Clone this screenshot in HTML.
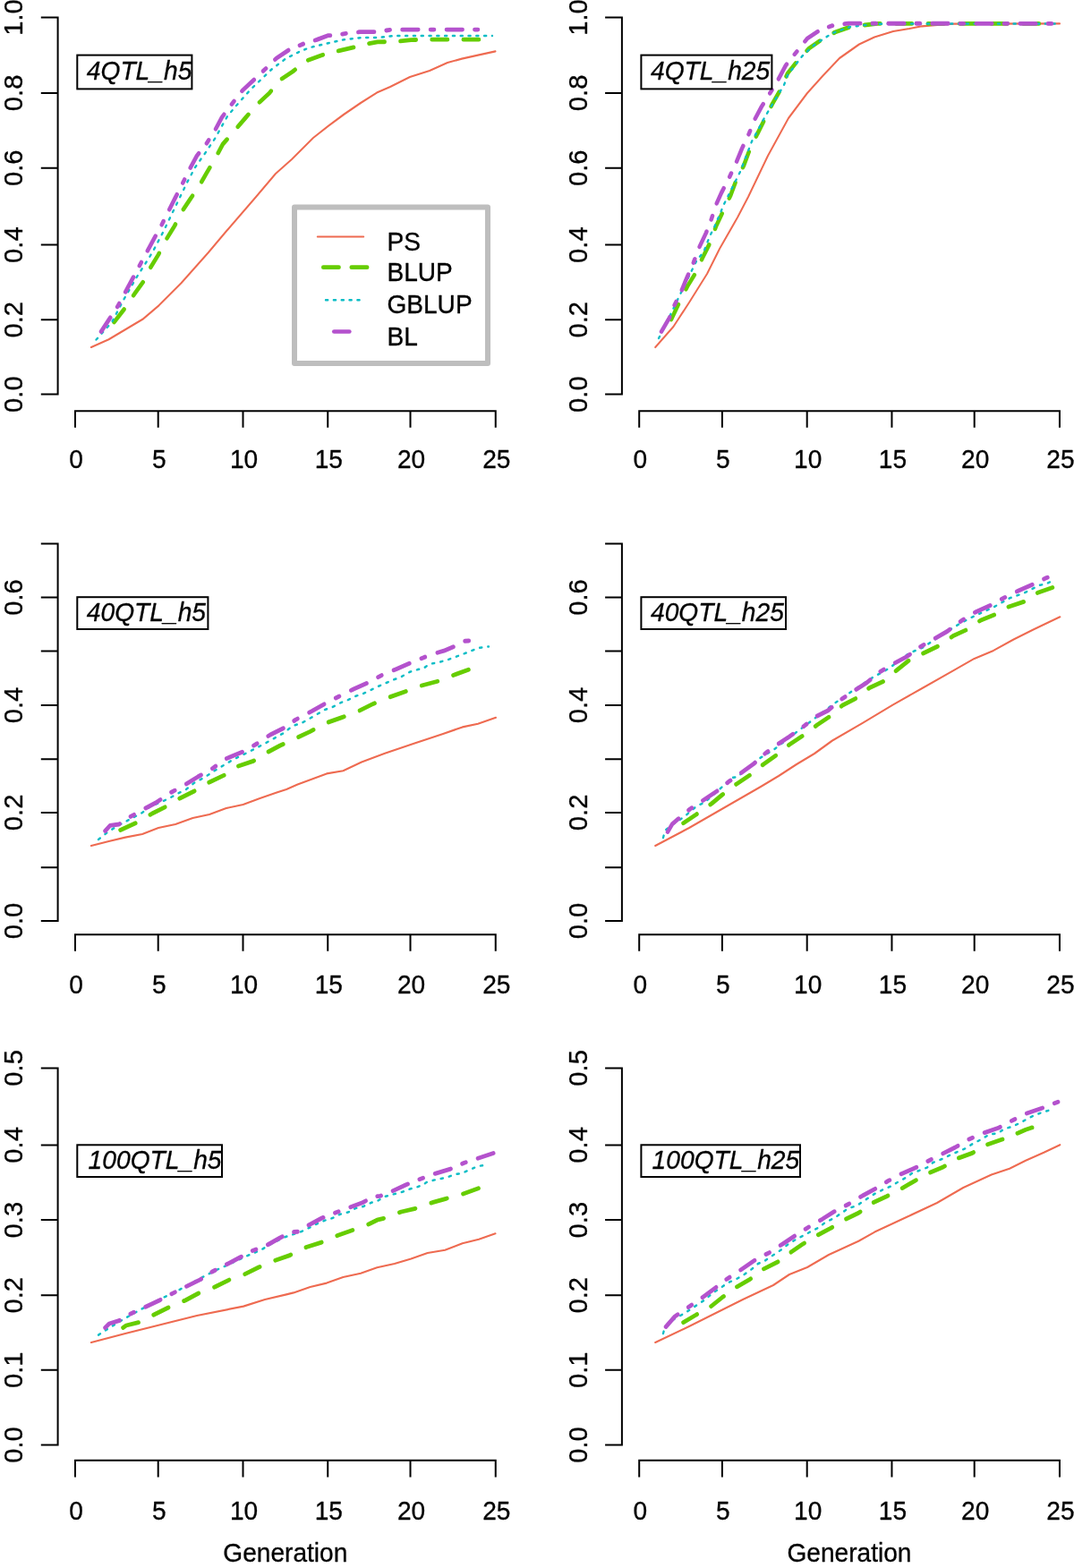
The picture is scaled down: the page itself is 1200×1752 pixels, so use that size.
<!DOCTYPE html>
<html lang="en"><head><meta charset="utf-8"><title>Genetic gain by generation</title>
<style>
html,body{margin:0;padding:0;background:#fff;}
body{width:1200px;height:1752px;overflow:hidden;}
svg{display:block;}
text{font-family:"Liberation Sans",sans-serif;fill:#000;stroke:#000;stroke-width:0.3;stroke-linejoin:round;}
.ax{stroke:#000;stroke-width:2;fill:none;stroke-linecap:butt;stroke-linejoin:miter;}
.t{font-size:28.1px;}
.b{font-size:28.2px;font-style:italic;}
.bx{fill:#fff;stroke:#000;stroke-width:2;}
.c{fill:none;stroke-linecap:round;stroke-linejoin:round;}
.ps{stroke:#EE6A50;stroke-width:2;}
.blup{stroke:#66CD00;stroke-width:4.5;}
.gblup{stroke:#0CBDC6;stroke-width:2.3;}
.bl{stroke:#B452CD;stroke-width:4.5;}
</style></head><body>
<svg width="1200" height="1752" viewBox="0 0 1200 1752">
<rect x="0" y="0" width="1200" height="1752" fill="#fff"/>
<g>
<path class="ax" d="M64.6 18.5V441.6M64.6 440.6H45.8M64.6 357.3H45.8M64.6 273.6H45.8M64.6 187.7H45.8M64.6 103.9H45.8M64.6 19.5H45.8"/>
<text class="t" text-anchor="middle" transform="translate(25.4 440.6) rotate(-90) scale(1.04 1.075)">0.0</text>
<text class="t" text-anchor="middle" transform="translate(25.4 357.3) rotate(-90) scale(1.04 1.075)">0.2</text>
<text class="t" text-anchor="middle" transform="translate(25.4 273.6) rotate(-90) scale(1.04 1.075)">0.4</text>
<text class="t" text-anchor="middle" transform="translate(25.4 187.7) rotate(-90) scale(1.04 1.075)">0.6</text>
<text class="t" text-anchor="middle" transform="translate(25.4 103.9) rotate(-90) scale(1.04 1.075)">0.8</text>
<text class="t" text-anchor="middle" transform="translate(25.4 19.5) rotate(-90) scale(1.04 1.075)">1.0</text>
<path class="ax" d="M83 459.2H554.75M84 459.2V477.8M176.7 459.2V477.8M271.5 459.2V477.8M366.25 459.2V477.8M458.5 459.2V477.8M553.75 459.2V477.8"/>
<text class="t" text-anchor="middle" transform="translate(85 522.6) scale(1 1.075)">0</text>
<text class="t" text-anchor="middle" transform="translate(177.7 522.6) scale(1 1.075)">5</text>
<text class="t" text-anchor="middle" transform="translate(272.5 522.6) scale(1 1.075)">10</text>
<text class="t" text-anchor="middle" transform="translate(367.25 522.6) scale(1 1.075)">15</text>
<text class="t" text-anchor="middle" transform="translate(459.5 522.6) scale(1 1.075)">20</text>
<text class="t" text-anchor="middle" transform="translate(554.75 522.6) scale(1 1.075)">25</text>
</g>
<g>
<path class="ax" d="M694.9 18.5V441.6M694.9 440.6H676.1M694.9 357.3H676.1M694.9 273.6H676.1M694.9 187.7H676.1M694.9 103.9H676.1M694.9 19.5H676.1"/>
<text class="t" text-anchor="middle" transform="translate(655.7 440.6) rotate(-90) scale(1.04 1.075)">0.0</text>
<text class="t" text-anchor="middle" transform="translate(655.7 357.3) rotate(-90) scale(1.04 1.075)">0.2</text>
<text class="t" text-anchor="middle" transform="translate(655.7 273.6) rotate(-90) scale(1.04 1.075)">0.4</text>
<text class="t" text-anchor="middle" transform="translate(655.7 187.7) rotate(-90) scale(1.04 1.075)">0.6</text>
<text class="t" text-anchor="middle" transform="translate(655.7 103.9) rotate(-90) scale(1.04 1.075)">0.8</text>
<text class="t" text-anchor="middle" transform="translate(655.7 19.5) rotate(-90) scale(1.04 1.075)">1.0</text>
<path class="ax" d="M713.2 459.2H1184.95M714.2 459.2V477.8M806.9 459.2V477.8M901.7 459.2V477.8M996.45 459.2V477.8M1088.7 459.2V477.8M1183.95 459.2V477.8"/>
<text class="t" text-anchor="middle" transform="translate(715.2 522.6) scale(1 1.075)">0</text>
<text class="t" text-anchor="middle" transform="translate(807.9 522.6) scale(1 1.075)">5</text>
<text class="t" text-anchor="middle" transform="translate(902.7 522.6) scale(1 1.075)">10</text>
<text class="t" text-anchor="middle" transform="translate(997.45 522.6) scale(1 1.075)">15</text>
<text class="t" text-anchor="middle" transform="translate(1089.7 522.6) scale(1 1.075)">20</text>
<text class="t" text-anchor="middle" transform="translate(1184.95 522.6) scale(1 1.075)">25</text>
</g>
<g>
<path class="ax" d="M64.6 606.5V1030M64.6 1029H45.8M64.6 969.3H45.8M64.6 907.9H45.8M64.6 848.2H45.8M64.6 788H45.8M64.6 727.5H45.8M64.6 667.5H45.8M64.6 607.5H45.8"/>
<text class="t" text-anchor="middle" transform="translate(25.4 1029) rotate(-90) scale(1.04 1.075)">0.0</text>
<text class="t" text-anchor="middle" transform="translate(25.4 907.9) rotate(-90) scale(1.04 1.075)">0.2</text>
<text class="t" text-anchor="middle" transform="translate(25.4 788) rotate(-90) scale(1.04 1.075)">0.4</text>
<text class="t" text-anchor="middle" transform="translate(25.4 667.5) rotate(-90) scale(1.04 1.075)">0.6</text>
<path class="ax" d="M83 1044.2H554.75M84 1044.2V1062.8M176.7 1044.2V1062.8M271.5 1044.2V1062.8M366.25 1044.2V1062.8M458.5 1044.2V1062.8M553.75 1044.2V1062.8"/>
<text class="t" text-anchor="middle" transform="translate(85 1110.4) scale(1 1.075)">0</text>
<text class="t" text-anchor="middle" transform="translate(177.7 1110.4) scale(1 1.075)">5</text>
<text class="t" text-anchor="middle" transform="translate(272.5 1110.4) scale(1 1.075)">10</text>
<text class="t" text-anchor="middle" transform="translate(367.25 1110.4) scale(1 1.075)">15</text>
<text class="t" text-anchor="middle" transform="translate(459.5 1110.4) scale(1 1.075)">20</text>
<text class="t" text-anchor="middle" transform="translate(554.75 1110.4) scale(1 1.075)">25</text>
</g>
<g>
<path class="ax" d="M694.9 606.5V1030M694.9 1029H676.1M694.9 969.3H676.1M694.9 907.9H676.1M694.9 848.2H676.1M694.9 788H676.1M694.9 727.5H676.1M694.9 667.5H676.1M694.9 607.5H676.1"/>
<text class="t" text-anchor="middle" transform="translate(655.7 1029) rotate(-90) scale(1.04 1.075)">0.0</text>
<text class="t" text-anchor="middle" transform="translate(655.7 907.9) rotate(-90) scale(1.04 1.075)">0.2</text>
<text class="t" text-anchor="middle" transform="translate(655.7 788) rotate(-90) scale(1.04 1.075)">0.4</text>
<text class="t" text-anchor="middle" transform="translate(655.7 667.5) rotate(-90) scale(1.04 1.075)">0.6</text>
<path class="ax" d="M713.2 1044.2H1184.95M714.2 1044.2V1062.8M806.9 1044.2V1062.8M901.7 1044.2V1062.8M996.45 1044.2V1062.8M1088.7 1044.2V1062.8M1183.95 1044.2V1062.8"/>
<text class="t" text-anchor="middle" transform="translate(715.2 1110.4) scale(1 1.075)">0</text>
<text class="t" text-anchor="middle" transform="translate(807.9 1110.4) scale(1 1.075)">5</text>
<text class="t" text-anchor="middle" transform="translate(902.7 1110.4) scale(1 1.075)">10</text>
<text class="t" text-anchor="middle" transform="translate(997.45 1110.4) scale(1 1.075)">15</text>
<text class="t" text-anchor="middle" transform="translate(1089.7 1110.4) scale(1 1.075)">20</text>
<text class="t" text-anchor="middle" transform="translate(1184.95 1110.4) scale(1 1.075)">25</text>
</g>
<g>
<path class="ax" d="M64.6 1192.4V1615.5M64.6 1614.5H45.8M64.6 1530.7H45.8M64.6 1447.3H45.8M64.6 1363.1H45.8M64.6 1279.4H45.8M64.6 1193.4H45.8"/>
<text class="t" text-anchor="middle" transform="translate(25.4 1614.5) rotate(-90) scale(1.04 1.075)">0.0</text>
<text class="t" text-anchor="middle" transform="translate(25.4 1530.7) rotate(-90) scale(1.04 1.075)">0.1</text>
<text class="t" text-anchor="middle" transform="translate(25.4 1447.3) rotate(-90) scale(1.04 1.075)">0.2</text>
<text class="t" text-anchor="middle" transform="translate(25.4 1363.1) rotate(-90) scale(1.04 1.075)">0.3</text>
<text class="t" text-anchor="middle" transform="translate(25.4 1279.4) rotate(-90) scale(1.04 1.075)">0.4</text>
<text class="t" text-anchor="middle" transform="translate(25.4 1193.4) rotate(-90) scale(1.04 1.075)">0.5</text>
<path class="ax" d="M83 1631.8H554.75M84 1631.8V1650.4M176.7 1631.8V1650.4M271.5 1631.8V1650.4M366.25 1631.8V1650.4M458.5 1631.8V1650.4M553.75 1631.8V1650.4"/>
<text class="t" text-anchor="middle" transform="translate(85 1698.4) scale(1 1.075)">0</text>
<text class="t" text-anchor="middle" transform="translate(177.7 1698.4) scale(1 1.075)">5</text>
<text class="t" text-anchor="middle" transform="translate(272.5 1698.4) scale(1 1.075)">10</text>
<text class="t" text-anchor="middle" transform="translate(367.25 1698.4) scale(1 1.075)">15</text>
<text class="t" text-anchor="middle" transform="translate(459.5 1698.4) scale(1 1.075)">20</text>
<text class="t" text-anchor="middle" transform="translate(554.75 1698.4) scale(1 1.075)">25</text>
</g>
<g>
<path class="ax" d="M694.9 1192.4V1615.5M694.9 1614.5H676.1M694.9 1530.7H676.1M694.9 1447.3H676.1M694.9 1363.1H676.1M694.9 1279.4H676.1M694.9 1193.4H676.1"/>
<text class="t" text-anchor="middle" transform="translate(655.7 1614.5) rotate(-90) scale(1.04 1.075)">0.0</text>
<text class="t" text-anchor="middle" transform="translate(655.7 1530.7) rotate(-90) scale(1.04 1.075)">0.1</text>
<text class="t" text-anchor="middle" transform="translate(655.7 1447.3) rotate(-90) scale(1.04 1.075)">0.2</text>
<text class="t" text-anchor="middle" transform="translate(655.7 1363.1) rotate(-90) scale(1.04 1.075)">0.3</text>
<text class="t" text-anchor="middle" transform="translate(655.7 1279.4) rotate(-90) scale(1.04 1.075)">0.4</text>
<text class="t" text-anchor="middle" transform="translate(655.7 1193.4) rotate(-90) scale(1.04 1.075)">0.5</text>
<path class="ax" d="M713.2 1631.8H1184.95M714.2 1631.8V1650.4M806.9 1631.8V1650.4M901.7 1631.8V1650.4M996.45 1631.8V1650.4M1088.7 1631.8V1650.4M1183.95 1631.8V1650.4"/>
<text class="t" text-anchor="middle" transform="translate(715.2 1698.4) scale(1 1.075)">0</text>
<text class="t" text-anchor="middle" transform="translate(807.9 1698.4) scale(1 1.075)">5</text>
<text class="t" text-anchor="middle" transform="translate(902.7 1698.4) scale(1 1.075)">10</text>
<text class="t" text-anchor="middle" transform="translate(997.45 1698.4) scale(1 1.075)">15</text>
<text class="t" text-anchor="middle" transform="translate(1089.7 1698.4) scale(1 1.075)">20</text>
<text class="t" text-anchor="middle" transform="translate(1184.95 1698.4) scale(1 1.075)">25</text>
</g>
<g>
<path class="c ps" d="M101.9 360.93L121.5 352.84L159.3 331.91L177.5 317.49L202.5 294.23L232.5 262.79L252.5 240.74L286 204.65L308 180.47L326 165.58L350 143.26L367 130.79L384 119.07L403 106.98L421 96.37L436 90.23L458 80L480 73.49L500 65.12L516 61.02L534 57.3L553.5 53.4" transform="scale(1 1.075)"/>
<path class="c blup" d="M127.5 334.88L140 319.81L150 305.86L160 293.02L167.5 279.07L177 264.65L185 250.05L195 234.88L202.5 220.93L212.5 206.98L223 192.56L231 179.53L241 163.72L249 149.77L263 134.88L274 122.79L287 108.84L301 96.74L312 83.72L327 74.42L342 63.26L360 57.21L376 53.4L396 49.02L412 45.3L421.75 43.53L440.5 43.44L459.25 41.49L478 41.12L535 41.12" transform="scale(1 1.075)" stroke-dasharray="17.4 17.8"/>
<path class="c gblup" d="M107.5 353.02L125 334.88L137.5 312.56L152.5 288.37L170 262.79L182.5 240.74L198.8 209.3L209 189.77L218 173.95L230 158.14L240 144.19L254 120.93L264 109.77L280 93.02L304 71.63L320 60.47L336 53.02L346.75 49.3L365.5 45.12L384.25 41.21L403 39.16L421.75 39.16L440.5 37.21L550 37.21" transform="scale(1 1.075)" stroke-dasharray="2.2 6.6"/>
<path class="c bl" d="M113 344.65L122.5 331.16L131.8 317.95L147.5 290.7L155.8 276.28L172.5 247.44L180 234.88L196.3 204.65L204 190.7L212.4 174.88L220 161.86L231 148.84L240 135.81L248 121.86L260 106.98L271 93.95L285 81.86L298 70.33L309 60.47L324 51.16L340 45.21L354 41.3L366.3 36.93L375 36.74L385 34.98L402 33.21L421.5 33.12L436 30.98L450 30.79L534 30.79" transform="scale(1 1.075)" stroke-dasharray="17.75 13.67 4.08 13.87"/>
</g>
<g>
<path class="c ps" d="M101.9 879.07L121.6 874.42L140 870.33L159 866.98L177 860.47L196 856.74L215.4 850.23L234 846.51L252.8 840L271.6 836.28L290.4 829.77L309.2 823.81L320 820.47L332.5 815.44L365 804.09L383.4 801.12L404 792L430 782.98L462.5 772.84L495 762.79L516.7 755.72L534 752.28L554 745.86" transform="scale(1 1.075)"/>
<path class="c blup" d="M134.5 862.7L153 854.88L170 845.58L186 838.14L201 829.77L217 822.33L234 813.02L250 805.95L265 796.65L283 791.07L298 782.33L313 774.88L328 768.37L346.6 760.37L364 751.63L382 745.67L399.7 739.53L417 731.53L434.3 724.93L452.8 718.88L470 712.84L488 708.37L504.8 702.33L523.5 696.09" transform="scale(1 1.075)" stroke-dasharray="18.27 18.69"/>
<path class="c gblup" d="M110 872.56L120 865.12L131 858.6L146 851.16L159 844.65L168 838.14L178 834.42L189 829.77L198 825.12L208 820.47L218 813.02L228 808.37L240 800.93L250 795.35L260 789.77L276 782.33L286 777.67L300 770.7L317 761.86L327 754.42L337 751.63L350 744.65L363 737.67L371.5 734.88L381 730.23L389 727.44L397.5 723.53L406 720.93L415 716.84L422.4 713.49L430 710.42L438.7 706.79L447 704.19L458 698.33L467 695.81L473 694.7L480 690.23L490.7 688.19L499 686.23L508 683.16L516.7 680L525 677.21L534 673.49L546 672.09" transform="scale(1 1.075)" stroke-dasharray="2.32 6.96"/>
<path class="c bl" d="M117.5 863.72L123 858.05L133 856.74L145 849.3L159 841.86L174 834.42L190 824.19L205 816.74L221 807.44L236 799.63L253 788.47L272 781.02L287 773.02L302 763.72L317 756.74L330 748.28L348.8 738.98L362.8 731.53L379 723.72L395 716.28L411.6 709.4L427.4 701.4L442 695.81L458 689.3L474 683.16L489.6 678.14L496 676.47L507 672.09L518.5 666.33L526.5 665.86" transform="scale(1 1.075)" stroke-dasharray="18.74 14.43 4.31 14.65"/>
</g>
<g>
<path class="c ps" d="M101.9 1395.35L140 1386.05L180 1376.74L220 1367.44L272 1357.77L296 1350.7L320 1345.49L328 1343.63L346.6 1337.67L365 1333.58L383.4 1327.44L403 1323.53L421.3 1317.49L440.8 1313.49L459.3 1308.37L477.7 1302.33L497.2 1299.35L516.7 1292.28L535 1288.19L553.5 1282.14" transform="scale(1 1.075)"/>
<path class="c blup" d="M137.5 1380L141 1377.67L155 1374.51L172 1366.51L190 1358.14L207 1351.63L223 1343.63L240 1337.67L257 1329.86L271 1325.58L289 1317.21L306.5 1310.42L323.8 1304.74L342.3 1296.28L359.6 1291.16L377 1284.19L394.3 1278.51L412.7 1272.09L421.3 1268.09L430 1266.05L448.4 1259.53L464.7 1256L483 1249.95L498.3 1245.86L515.6 1241.49L534.6 1235.16" transform="scale(1 1.075)" stroke-dasharray="18.24 18.65"/>
<path class="c gblup" d="M110 1387.53L120 1381.4L138 1371.16L155 1362.23L180 1349.77L198 1341.77L232 1324.65L242 1320L278 1304.56L292 1298.98L300 1294.42L317 1286.23L337 1280L345.5 1276.09L354 1272.09L363 1268.47L371.5 1266.05L380 1262.05L389 1260L397.5 1255.81L406 1253.95L415 1249.95L422.4 1247.91L430 1243.72L438.7 1241.49L449.5 1238.88L458 1235.81L467 1233.49L473 1231.35L476.6 1228.84L484 1226.79L499.3 1223.72L508 1220.74L516.7 1219.26L525.3 1215.63L534 1212.09L546 1210.6" transform="scale(1 1.075)" stroke-dasharray="2.32 6.96"/>
<path class="c bl" d="M117.5 1380L122 1375.81L133 1372.65L146 1365.58L159 1360L178 1351.63L192 1344.74L207 1337.67L224 1329.86L237 1321.86L251 1315.35L268 1306.98L282 1300.09L298 1294.42L313 1286.51L325.5 1280.65L333 1280.19L344.4 1273.67L359.6 1266.05L374.8 1260.47L391 1254.88L405 1249.95L418.5 1243.63L425 1243.07L436.5 1238.88L453.8 1231.35L470 1225.3L485.3 1220.09L502.6 1215.26L518.8 1208.65L534 1204L552 1198.33" transform="scale(1 1.075)" stroke-dasharray="18.15 13.98 4.17 14.18"/>
</g>
<g>
<path class="c ps" d="M732.2 360.93L752.4 339.53L770 314.42L790 284.65L804 258.6L824 226.05L836 204.65L858 161.86L881 122.79L902 96.74L920 78.14L938 60.47L960 46.05L977 38.6L998 32.56L1016 29.77L1030 27.26L1050 25.67L1066 24.74L1184 24.56" transform="scale(1 1.075)"/>
<path class="c blup" d="M750 332.09L758 316.28L768 297.67L776 285.58L785 267.91L793 253.02L800 235.35L807 221.4L816 203.72L822 188.84L831 172.09L837 157.21L846 139.53L854 124.65L863 107.91L871 94.88L880 76.28L891 63.26L904 50.23L917 41.86L933 33.49L950 27.91L966 26.05L980 24.56L1170 24.56" transform="scale(1 1.075)" stroke-dasharray="17.54 17.94"/>
<path class="c gblup" d="M736 351.63L747 331.16L758 309.77L775 277.21L779 269.77L786 262.33L793 245.58L798 236.28L804 223.26L809 212.09L815 200.93L822 187.91L827 178.6L840 146.98L855 120.93L876 88.37L880 78.14L896 58.6L910 46.51L930 34.42L950 27.91L970 25.67L990 24.56L1184 24.56" transform="scale(1 1.075)" stroke-dasharray="2.2 6.6"/>
<path class="c bl" d="M739 344.65L748 330.23L753.6 317.21L761 303.26L768 287.44L775 272.56L781 257.67L789 241.86L795 227.35L800 213.02L806 200.47L815 184.19L822 170.23L829 154.42L837 138.6L843 124.65L851 110.7L861 95.81L870 81.86L878 67.91L890 53.95L902 40L917 30.7L932 26.05L948 24.37L966 24.37L1179 24.56" transform="scale(1 1.075)" stroke-dasharray="17.63 13.57 4.05 13.78"/>
</g>
<g>
<path class="c ps" d="M732.2 879.07L770 860.47L810 839.07L850 817.67L870 806.51L890 794.42L910 783.26L930 769.77L963.8 751.53L997.5 732.65L1031.3 714.88L1065 697.12L1088.6 684.56L1110 676.19L1132.5 664.65L1155 654.23L1184.3 641.21" transform="scale(1 1.075)"/>
<path class="c blup" d="M763.5 855.53L778 846.51L795 835.35L807 826.05L823 814.88L838 805.58L853 794.42L867 785.12L882 773.95L897 764.65L913 753.49L928 744.19L941 733.3L957 725.58L971.6 714.88L988.5 707.53L1003 695.81L1015.5 686.51L1034.6 677.67L1050.4 670.51L1065 660.93L1080.8 654.23L1096 644.65L1111 639.07L1127 630.7L1145 625.12L1159.5 616.09L1178.4 609.86" transform="scale(1 1.075)" stroke-dasharray="17.68 18.08"/>
<path class="c gblup" d="M741 870.7L743 863.26L751 857.21L764 849.3L778 838.14L788 833.49L806 818.6L818 808.37L824 807.44L846 789.77L864 779.53L890 760.93L906 749.77L930 732.65L948 720.93L975 704.19L993 694.88L1015.5 679.07L1031 673.02L1067 651.16L1083 642.79L1110 631.16L1128 621.77L1143.8 616.56L1161.8 608.19L1168.5 607.07L1178.5 602.6" transform="scale(1 1.075)" stroke-dasharray="2.32 6.96"/>
<path class="c bl" d="M746 864.65L751 856.74L759 850.23L771 840.93L786 831.63L801 822.33L814 812.65L828 803.35L842 794.05L856 782.33L870 773.02L882 765.58L898 754.98L911 745.12L925 738.6L939 727.63L952.5 719.07L968.3 709.67L981.8 699.16L996.4 690.79L1013.3 682.42L1027.9 672.56L1042.5 664.65L1058.3 656.28L1075.8 644.19L1089.8 636.28L1106.6 629.12L1122.4 621.12L1138 613.95L1155 607.07L1168.5 600.84L1171.5 599.91" transform="scale(1 1.075)" stroke-dasharray="18.6 14.32 4.28 14.54"/>
</g>
<g>
<path class="c ps" d="M732.2 1395.35L770 1378.6L806 1361.86L830 1350.7L864 1335.81L882 1324.65L902 1317.21L926 1304.19L950 1293.95L959.3 1290.05L977.3 1280.56L1013.3 1264.93L1047 1250.23L1076.3 1234.42L1107.8 1220.93L1128 1214.7L1146 1206.33L1166.3 1197.95L1184.3 1189.95" transform="scale(1 1.075)"/>
<path class="c blup" d="M763.5 1374.6L778 1366.51L794 1358.14L807 1348.47L823 1337.67L838 1329.67L853 1319.07L869 1311.63L882 1302.7L897 1293.02L913 1284.09L928 1276.65L943.5 1267.91L959.3 1260.74L975 1250.23L989.6 1244L1007.6 1235.16L1022.3 1227.26L1039 1218.88L1053.8 1213.02L1069.5 1204.19L1086.4 1198.51L1102 1189.95L1120 1184.19L1137.5 1177.58L1146 1174.14L1152 1172.28L1158.6 1171.16" transform="scale(1 1.075)" stroke-dasharray="17.45 17.85"/>
<path class="c gblup" d="M741 1386.05L742.5 1380.47L753 1371.16L763 1365.95L770 1361.86L779 1356.28L788 1350.7L796 1344.19L805 1338.6L814 1333.02L823 1329.3L831 1325.02L840 1319.07L847 1313.49L855 1310.14L863 1305.12L872 1299.53L881 1293.02L890 1287.81L898 1284.09L906 1280L914 1276.28L922 1270.7L932 1266.05L940 1261.02L948 1255.81L957 1253.4L967 1247.07L977.3 1240.84L986.3 1236.65L995.3 1233.02L1002 1229.3L1012 1224.09L1020 1218.88L1026.8 1216.74L1035.8 1213.58L1042.5 1208.37L1053.8 1204.19L1062.8 1200L1070.6 1196.84L1078.5 1193.77L1087.5 1188.47L1096.5 1184.19L1105.5 1179.07L1114.5 1178.05L1122.4 1173.21L1130.3 1171.16L1139.3 1167.44L1147 1163.35L1156 1159.07L1165 1156.09L1174 1153.49L1178 1153.12" transform="scale(1 1.075)" stroke-dasharray="2.32 6.96"/>
<path class="c bl" d="M744 1379.07L754 1368.37L768.6 1359.07L783 1349.77L798 1339.53L811 1330.23L829 1319.07L845 1308.84L859.6 1301.95L875 1292.65L891 1282.79L903.6 1275.35L919 1266.98L935 1257.67L949 1251.16L963.8 1242.79L977.3 1236L992 1227.63L1007.6 1219.91L1023.4 1213.58L1035.8 1207.35L1051.5 1200L1067.3 1192.56L1082.5 1184.19L1097.6 1178.05L1115.6 1172.37L1130.3 1165.02L1145 1157.95L1166 1151.26L1179.5 1146.23L1183 1144.93" transform="scale(1 1.075)" stroke-dasharray="18.46 14.22 4.24 14.43"/>
</g>
<rect class="bx" x="86.3" y="61.6" width="128.1" height="37.8"/>
<text class="b" transform="translate(96.8 89) scale(1 1.075)">4QTL_h5</text>
<rect class="bx" x="716.4" y="61.6" width="146" height="37.8"/>
<text class="b" transform="translate(727 89) scale(1 1.075)">4QTL_h25</text>
<rect class="bx" x="86.3" y="667.2" width="146.1" height="35.8"/>
<text class="b" transform="translate(96.8 694.2) scale(1 1.075)">40QTL_h5</text>
<rect class="bx" x="716.4" y="667.2" width="161.6" height="35.8"/>
<text class="b" transform="translate(727 694.2) scale(1 1.075)">40QTL_h25</text>
<rect class="bx" x="86.3" y="1279.3" width="161.7" height="35.7"/>
<text class="b" transform="translate(98.6 1306.2) scale(1 1.075)">100QTL_h5</text>
<rect class="bx" x="716.4" y="1279.3" width="177.6" height="35.7"/>
<text class="b" transform="translate(728.6 1306.2) scale(1 1.075)">100QTL_h25</text>
<g>
<rect x="329" y="231.4" width="216" height="174.6" fill="#fff" stroke="#BEBEBE" stroke-width="6" stroke-linejoin="round"/>
<path class="c" d="M354.8 264.6H406.2" stroke="#EE6A50" stroke-width="2"/>
<path class="c" d="M361.3 298.7H378.5M392.8 298.7H410.1" stroke="#66CD00" stroke-width="4.7"/>
<path class="c" d="M364 335.3h2.2M372.85 335.3h2.2M381.7 335.3h2.2M390.5 335.3h2.2M399.4 335.3h2.2" stroke="#0CBDC6" stroke-width="2.4"/>
<path class="c" d="M373.3 370.5H390.3" stroke="#B452CD" stroke-width="4.7"/>
<text class="t" transform="translate(432.4 279.6) scale(1 1.075)">PS</text>
<text class="t" transform="translate(432.4 314.2) scale(1 1.075)">BLUP</text>
<text class="t" transform="translate(432.4 350) scale(1 1.075)">GBLUP</text>
<text class="t" transform="translate(432.4 385.6) scale(1 1.075)">BL</text>
</g>
<text class="t" text-anchor="middle" transform="translate(318.8 1745.2) scale(1 1.075)">Generation</text>
<text class="t" text-anchor="middle" transform="translate(949 1745.2) scale(1 1.075)">Generation</text>
</svg></body></html>
